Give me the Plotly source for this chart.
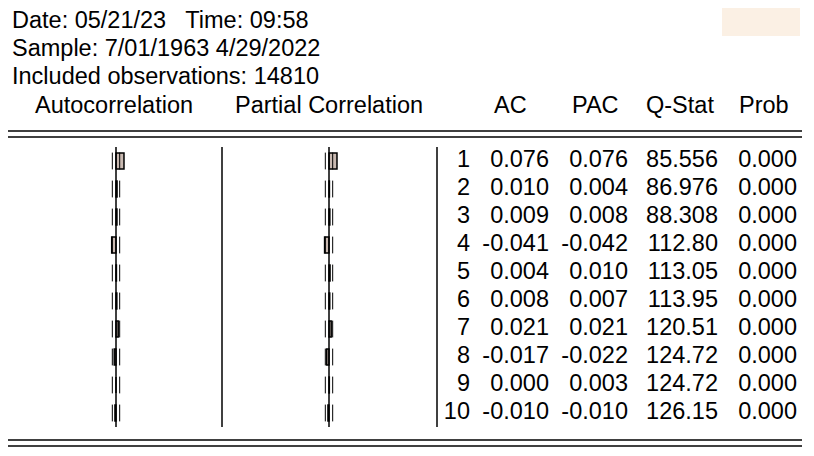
import plotly.graph_objects as go

lags = [1, 2, 3, 4, 5, 6, 7, 8, 9, 10]
ac = [0.076, 0.010, 0.009, -0.041, 0.004, 0.008, 0.021, -0.017, 0.000, -0.010]
pac = [0.076, 0.004, 0.008, -0.042, 0.010, 0.007, 0.021, -0.022, 0.003, -0.010]
qstat = ["85.556", "86.976", "88.308", "112.80", "113.05", "113.95", "120.51", "124.72", "124.72", "126.15"]
prob = ["0.000"] * 10
header = ["Date: 05/21/23   Time: 09:58", "Sample: 7/01/1963 4/29/2022", "Included observations: 14810"]
band = 0.035

W, H = 814, 456
OFF = 8  # page body margin
FONT = "Liberation Sans, Arial"
FS = 23.5
bar_color = "#C9B9B1"

# lag -> screen pixel: lag 1 at 161px, 28px per lag
y_top = 1 + (OFF - 161) / 28
y_bot = 1 + (H + OFF - 161) / 28


def py(p):
    return 1 + (p - 161) / 28


def dom(a, b):
    return [(a - OFF) / W, (b - OFF) / W]


fig = go.Figure()
fig.add_trace(go.Bar(x=ac, y=lags, orientation="h", base=0, width=0.57,
                     marker=dict(color=bar_color, line=dict(color="black", width=1.5)),
                     xaxis="x2", yaxis="y"))
fig.add_trace(go.Bar(x=pac, y=lags, orientation="h", base=0, width=0.57,
                     marker=dict(color=bar_color, line=dict(color="black", width=1.5)),
                     xaxis="x3", yaxis="y"))

fmt = lambda v: f"{v:.3f}"
cols = [(470, [str(l) for l in lags]), (549, [fmt(v) for v in ac]),
        (628, [fmt(v) for v in pac]), (718, qstat), (797, prob)]
for xr, txt in cols:
    fig.add_trace(go.Scatter(x=[xr] * len(lags), y=lags, mode="text", text=txt,
                             textposition="middle left",
                             textfont=dict(family=FONT, size=FS, color="black"),
                             xaxis="x", yaxis="y", hoverinfo="skip"))

# fixed text
for i, t in enumerate(header):
    fig.add_annotation(x=10, y=py(20 + 28 * i), text=t, showarrow=False, xanchor="left",
                       xref="x", yref="y", font=dict(family=FONT, size=FS, color="black"))
for t, xc in [("Autocorrelation", 114), ("Partial Correlation", 329), ("AC", 510),
              ("PAC", 595), ("Q-Stat", 680), ("Prob", 764)]:
    fig.add_annotation(x=xc, y=py(105), text=t, showarrow=False, xref="x", yref="y",
                       font=dict(family=FONT, size=FS, color="black"))

line = dict(color="black", width=1.5)
for yy in [131, 137, 440, 446]:
    fig.add_shape(type="line", x0=2, x1=802, y0=py(yy), y1=py(yy), xref="x", yref="y", line=line)
for xx in [222, 437]:
    fig.add_shape(type="line", x0=xx, x1=xx, y0=py(147), y1=py(427), xref="x", yref="y", line=line)
for ax in ["x2", "x3"]:
    fig.add_shape(type="line", x0=0, x1=0, y0=py(147), y1=py(427), xref=ax, yref="y", line=line)
    for b in (-band, band):
        for lg in lags:
            fig.add_shape(type="line", x0=b, x1=b, y0=lg - 0.3, y1=lg + 0.3, xref=ax, yref="y",
                          line=dict(color="black", width=1))
fig.add_shape(type="rect", x0=722, x1=800, y0=py(8), y1=py(36), xref="x", yref="y",
              fillcolor="#FBF0E4", line=dict(width=0), layer="below")

noax = dict(visible=False, fixedrange=True)
fig.update_layout(
    width=W, height=H, margin=dict(l=0, r=0, t=0, b=0),
    paper_bgcolor="white", plot_bgcolor="white", showlegend=False, barmode="overlay",
    xaxis=dict(range=[OFF, W + OFF], domain=[0, 1], **noax),
    xaxis2=dict(range=[-0.333, 0.333], domain=dom(81, 151), anchor="y", **noax),
    xaxis3=dict(range=[-0.333, 0.333], domain=dom(294, 364), anchor="y", **noax),
    yaxis=dict(range=[y_bot, y_top], **noax),
)
fig.write_html("out.html")
